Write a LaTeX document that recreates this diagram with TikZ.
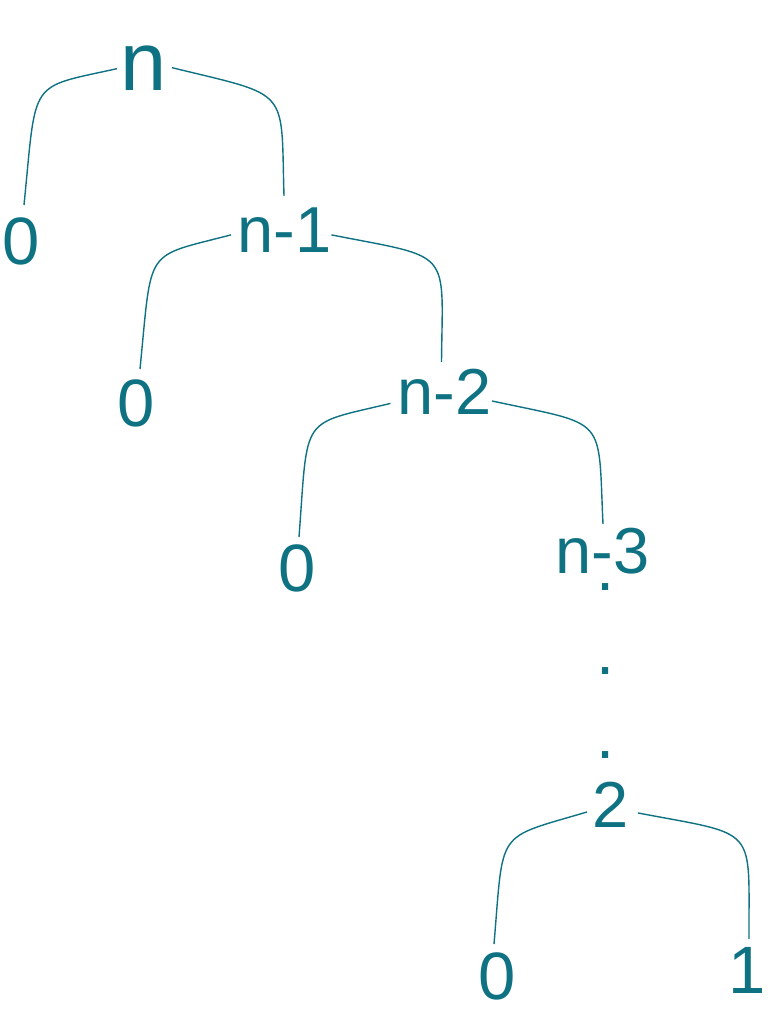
\documentclass[tikz,border=0pt]{standalone}
\usepackage{fontspec}
\setmainfont{Liberation Sans}
\usetikzlibrary{calc}
\definecolor{tealc}{RGB}{14,114,130}
\begin{document}
\begin{tikzpicture}[x=1pt,y=-1pt,
  lblbase/.style={text=tealc, inner sep=0pt, outer sep=0pt, anchor=base},
  rootlbl/.style={lblbase, font=\fontsize{83}{83}\selectfont},
  inlbl/.style={lblbase, font=\fontsize{65}{65}\selectfont},
  leaflbl/.style={lblbase, font=\fontsize{67}{67}\selectfont},
  conn/.style={draw=tealc, line width=1.4pt}]
\useasboundingbox (0,0) rectangle (768,1017);
\node[rootlbl] (n) at (143.5,90) {n};
\node[leaflbl] (z1) at (21,264) {0};
\node[inlbl] (n1) at (284.3,252) {n-1};
\node[leaflbl] (z2) at (136.5,426) {0};
\node[inlbl] (n2) at (444.3,414) {n-2};
\node[leaflbl] (z3) at (297.5,591) {0};
\node[inlbl] (n3) at (602.7,573) {n-3};
\node[inlbl] (d1) at (605.5,590) {.};
\node[inlbl] (d2) at (605.5,674) {.};
\node[inlbl] (d3) at (605.5,758) {.};
\node[inlbl] (t2) at (611,827) {2};
\node[leaflbl] (z4) at (497.5,999) {0};
\node[leaflbl] (o1) at (747.6,993) {1};
% connectors
\draw[conn] ($(n.west)+(-3.4,1)$) .. controls +(-89.5,19.8) and +(12.8,-127.6) .. ($(z1.north)+(3,-12.2)$);
\draw[conn] ($(n.east)+(5.4,0)$) .. controls +(119.9,29.3) and +(-3.3,-109.3) .. ($(n1.north)+(-0.3,-11.5)$);
\draw[conn] ($(n1.west)+(-6.4,5.25)$) .. controls +(-87.8,22.9) and +(12.3,-123.4) .. ($(z2.north)+(3.5,-10.2)$);
\draw[conn] ($(n1.east)+(0.2,5.25)$) .. controls +(122.1,24) and +(1.1,-114.6) .. ($(n2.north)+(-2.8,-6.7)$);
\draw[conn] ($(n2.west)+(-6.9,12.1)$) .. controls +(-91.3,22) and +(9.35,-123.75) .. ($(z3.north)+(1.5,-7.2)$);
\draw[conn] ($(n2.east)+(0.7,9.65)$) .. controls +(116.9,25.3) and +(-5.2,-110) .. ($(n3.north)+(0.3,-3.7)$);
\draw[conn] ($(t2.west)+(-5.9,7.65)$) .. controls +(-92.4,27.5) and +(9.9,-116.6) .. ($(z4.north)+(-3.5,-8.2)$);
\draw[conn] ($(t2.east)+(8.9,8.65)$) .. controls +(121.6,23.1) and +(-0.55,-114.4) .. ($(o1.north)+(1.4,-8)$);
\end{tikzpicture}
\end{document}
